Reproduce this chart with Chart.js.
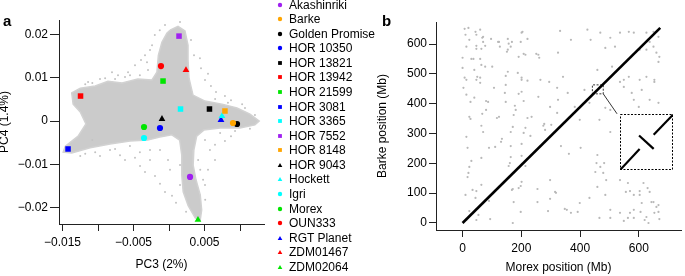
<!DOCTYPE html>
<html>
<head>
<meta charset="utf-8">
<script src="https://cdn.jsdelivr.net/npm/chart.js@4.4.1/dist/chart.umd.min.js"></script>
<style>
  body { margin: 0; width: 685px; height: 276px; overflow: hidden; background: #fff; position: relative;
         font-family: "Liberation Sans", Arial, Helvetica, sans-serif; color: #000; }
  canvas { position: absolute; }
  .lab { position: absolute; font-weight: bold; font-size: 15px; line-height: 15px; }
  .leg { position: absolute; left: 275px; font-size: 12px; line-height: 14px; white-space: nowrap; }
  .leg svg { vertical-align: top; }
  .leg span { margin-left: 4px; }
</style>
</head>
<body>
<canvas id="pa" width="270" height="276" style="left:0;top:0"></canvas>
<canvas id="pb" width="325" height="276" style="left:360px;top:0"></canvas>
<canvas id="inset" width="55" height="58" style="left:619px;top:113px"></canvas>
<div class="lab" style="left:3px;top:13px">a</div>
<div class="lab" style="left:382px;top:13px">b</div>
<div id="legend"></div>
<script>
// panel a: PCA, genotypes
const genoNames = ['Akashinriki', 'Barke', 'Golden Promise', 'HOR 10350', 'HOR 13821', 'HOR 13942', 'HOR 21599',
  'HOR 3081', 'HOR 3365', 'HOR 7552', 'HOR 8148', 'HOR 9043', 'Hockett', 'Igri', 'Morex', 'OUN333',
  'RGT Planet', 'ZDM01467', 'ZDM02064'];
const genoColors = ['#A020F0', '#FFA500', '#000000', '#0000FF', '#000000', '#FF0000', '#00E600',
  '#0000FF', '#00FFFF', '#A020F0', '#FFA500', '#000000', '#00FFFF', '#00FFFF', '#00E600', '#FF0000',
  '#0000FF', '#FF0000', '#00E600'];
const genoShapes = ['circle', 'circle', 'circle', 'circle', 'rect', 'rect', 'rect',
  'rect', 'rect', 'rect', 'rect', 'triangle', 'triangle', 'circle', 'circle', 'circle',
  'triangle', 'triangle', 'triangle'];
const genoPC3 = [0.00296, 0.00901, 0.00958, -0.00127, 0.0057, -0.01246, -0.00084,
  -0.01422, 0.00162, 0.00141, 0.00788, -0.00099, 0.00746, -0.00352, -0.00352, -0.00113,
  0.00732, 0.00239, 0.00408];
const genoPC4 = [-0.01293, -0.00046, -0.00069, -0.00162, 0.00277, 0.00577, 0.00924,
  -0.00647, 0.00277, 0.01963, 0.00231, 0.00046, 0.00115, -0.00393, -0.00139, 0.0127,
  0.00023, 0.01178, -0.02287];

// outline of the dense grey cloud of all accessions (PC3, PC4)
const cloudShape = [
  [0.00014, 0.0210], [0.00127, 0.0219], [0.00225, 0.0208], [0.00268, 0.0175], [0.00268, 0.0141],
  [0.00282, 0.0099], [0.00338, 0.0060], [0.00507, 0.0046], [0.00746, 0.0039], [0.00957, 0.0030],
  [0.0114, 0.0016], [0.0127, 0.0000], [0.0121, -0.0009], [0.0100, -0.0016], [0.0072, -0.0016],
  [0.0049, -0.0021], [0.0039, -0.0035], [0.0035, -0.0067], [0.0034, -0.0102], [0.0038, -0.0136],
  [0.0044, -0.0171], [0.0046, -0.0206], [0.0044, -0.0229], [0.0037, -0.0224], [0.0027, -0.0196],
  [0.0020, -0.0164], [0.0018, -0.0125], [0.0018, -0.0079], [0.0015, -0.0044], [0.0004, -0.0032],
  [-0.0013, -0.0037], [-0.0030, -0.0044], [-0.0055, -0.0046], [-0.0083, -0.0053], [-0.0111, -0.0062],
  [-0.0137, -0.0074], [-0.0149, -0.0072], [-0.0146, -0.0058], [-0.0128, -0.0035], [-0.0117, -0.0007],
  [-0.0125, 0.0021], [-0.0135, 0.0039], [-0.0137, 0.0065], [-0.0125, 0.0076], [-0.0104, 0.0081],
  [-0.0086, 0.0092], [-0.0066, 0.0088], [-0.0044, 0.0097], [-0.0024, 0.0095], [-0.0017, 0.0113],
  [-0.0015, 0.0152], [-0.0010, 0.0182], [-0.0003, 0.0203], [0.00014, 0.0210]
];
// scattered accessions outside the dense part
const cloudSparse = [
  [-0.00338, 0.0152], [-0.00268, 0.0164], [-0.00394, 0.0141], [-0.00239, 0.0175], [-0.00479, 0.0129],
  [-0.00296, 0.0118], [-0.00577, 0.0113], [-0.00718, 0.0106], [-0.00056, 0.0222], [0.00155, 0.0229],
  [0.0031, 0.0187], [0.00352, 0.0152], [0.00451, 0.0122], [0.00507, 0.0095], [0.00591, 0.0081],
  [0.00662, 0.0067], [0.00788, 0.0058], [0.00436, 0.0145], [0.00549, 0.0109], [0.00873, 0.0048],
  [0.0103, 0.0039], [-0.00972, 0.0097], [-0.0114, 0.0090], [-0.00549, 0.0106], [-0.00803, 0.0113],
  [-0.00831, -0.0067], [-0.0069, -0.0079], [-0.0062, -0.0090], [-0.00479, -0.0085], [-0.00408, -0.0104],
  [-0.00338, -0.0118], [-0.00268, -0.0090], [-0.00197, -0.0127], [-0.00127, -0.0145], [-0.00056, -0.0164],
  [0.00014, -0.0113], [0.00042, -0.0173], [0.00099, -0.0189], [-0.00127, -0.0067], [-0.00014, -0.0090],
  [0.00507, -0.0044], [0.00577, -0.0067], [0.00648, -0.0055], [0.00788, -0.0046], [0.00873, -0.0035],
  [0.00648, -0.0090], [0.00549, -0.0113], [0.00507, -0.0148], [-0.00268, -0.0067], [-0.00972, -0.0081],
  [-0.0118, -0.0076], [-0.0108, -0.0044],
  [-0.0118, 0.0085], [-0.0108, 0.0088], [-0.0090, 0.0099], [-0.0076, 0.0097], [-0.0062, 0.0102],
  [-0.0041, 0.0106], [-0.0031, 0.0136], [-0.0020, 0.0199], [-0.0013, 0.0210], [0.0065, 0.0051],
  [0.0083, 0.0042], [0.0107, 0.0030], [0.0121, 0.0014], [-0.0125, -0.0081], [-0.0104, -0.0072],
  [-0.0076, -0.0065], [-0.0055, -0.0058], [-0.0041, -0.0072], [0.00155, -0.0102], [0.0041, -0.0090],
  [0.0044, -0.0113], [0.0048, -0.0136], [0.0051, -0.0182], [0.00155, -0.0148], [0.0024, -0.0210],
  [0.0093, -0.0023], [0.0072, -0.0028], [0.0114, -0.0018]
];
const pcaXTicks = [-0.015, -0.01, -0.005, 0, 0.005, 0.01];
const pcaXLabels = ['\u22120.015', '', '\u22120.005', '', '0.005', ''];
const pcaYTicks = [-0.02, -0.01, 0, 0.01, 0.02];
const pcaYLabels = ['\u22120.02', '\u22120.01', '0', '0.01', '0.02'];

// panel b: Morex vs Barke alignment (Mb)
const diagMorex = [0, 673];
const diagBarke = [0, 654];
const zoomBoxMorex = [442, 479, 479, 442, 442];
const zoomBoxBarke = [433, 433, 463, 463, 433];
const linkMorex = [479, 526];
const linkBarke = [433, 366];
const dotsB = [
  [7, 651], [20, 654], [44, 641], [60, 648], [10, 631], [47, 631], [67, 621], [23, 614], [70, 607], [13, 591],
  [47, 594], [77, 594], [47, 584], [64, 584], [121, 607], [127, 591], [154, 617], [157, 601], [164, 591], [154, 581],
  [198, 607], [204, 641], [221, 617], [0, 554], [30, 550], [37, 550], [60, 550], [64, 530], [77, 524], [101, 524],
  [191, 557], [208, 567], [251, 567], [261, 554], [0, 520], [40, 513], [154, 507], [147, 493], [188, 503], [201, 487],
  [221, 477], [7, 487], [47, 480], [60, 487], [60, 470], [295, 473], [3, 453], [107, 453], [144, 436], [191, 433],
  [201, 440], [13, 430], [40, 420], [27, 406], [80, 409], [87, 406], [208, 409], [178, 393], [322, 453], [322, 369],
  [67, 366], [117, 352], [174, 362], [221, 352], [27, 349], [278, 332],
  [64, 326], [70, 305], [13, 289], [17, 252], [134, 282], [131, 272], [171, 322], [164, 305], [214, 319], [208, 302],
  [231, 292], [275, 326], [281, 312], [302, 329], [201, 265], [164, 258], [90, 252], [111, 255], [64, 218], [164, 221],
  [161, 201], [201, 225], [214, 191], [30, 208], [23, 188], [20, 168], [17, 154], [157, 191], [64, 128], [34, 111],
  [47, 107], [10, 94], [44, 84], [90, 74], [171, 114], [191, 117], [201, 138], [198, 124], [255, 114], [318, 101],
  [174, 70], [291, 40], [198, 37], [23, 40], [54, 27], [94, 13], [47, 10], [171, 0], [13, 10],
  [298, 81], [298, 144], [315, 104], [335, 258], [362, 232], [355, 44], [348, 47], [369, 34], [392, 37], [399, 67],
  [432, 84], [459, 121], [469, 188], [482, 201], [486, 94], [503, 44], [503, 17], [466, 17], [456, 201], [479, 168],
  [489, 144], [536, 144], [563, 134], [556, 104], [570, 107], [583, 94], [603, 107], [603, 94], [610, 67], [616, 134],
  [630, 117], [637, 104], [643, 70], [650, 70], [660, 54], [667, 37], [670, 13], [653, 34], [626, 20], [606, 37],
  [583, 44], [570, 34], [563, 17], [536, 34], [549, 7], [583, 17], [633, 0], [620, 10], [667, 60], [168, 111], [255, 70],
  [566, 641], [583, 638], [626, 638], [650, 641], [667, 624], [660, 571], [670, 557], [667, 540], [637, 607], [650, 591],
  [626, 581], [603, 581], [332, 644], [425, 648], [469, 638], [503, 621], [536, 638], [519, 591], [486, 587], [436, 614],
  [369, 614], [325, 571], [258, 564], [214, 564], [201, 638], [168, 607], [151, 574], [124, 607], [97, 617], [70, 624],
  [13, 480], [50, 490], [147, 463], [201, 480], [265, 480], [342, 490], [358, 436], [415, 446], [459, 513], [509, 524],
  [536, 473], [549, 456], [566, 490], [583, 413], [626, 490], [653, 473], [637, 413], [667, 403], [600, 389], [503, 379],
  [432, 403], [382, 389], [325, 413], [298, 389], [258, 423], [235, 356], [181, 379], [147, 406], [124, 356], [80, 379],
  [23, 356], [549, 480], [603, 480], [653, 480], [576, 436], [610, 446], [486, 386], [466, 346], [503, 305], [459, 228],
  [452, 171], [402, 252], [399, 346]
];
const morexTicks = [0, 200, 400, 600];
const barkeTicks = [0, 100, 200, 300, 400, 500, 600];

// inset: zoom on the inversion (Mb)
const insetLowMorex = [442, 455.7];
const insetLowBarke = [433, 444.3];
const insetInvMorex = [455.3, 465.5];
const insetInvBarke = [451.5, 444.3];
const insetUpMorex = [465.5, 479];
const insetUpBarke = [451.9, 462.6];

Chart.defaults.font.family = '"Liberation Sans", Arial, Helvetica, sans-serif';
Chart.defaults.font.size = 12;
Chart.defaults.color = '#000';
Chart.defaults.animation = false;
Chart.defaults.plugins.legend.display = false;
Chart.defaults.plugins.tooltip.enabled = false;

const pts = (xs, ys) => xs.map((x, i) => ({ x: x, y: ys[i] }));
const pairs = arr => arr.map(p => ({ x: p[0], y: p[1] }));

function axis(opts) {
  return {
    type: 'linear',
    min: opts.min,
    max: opts.max,
    afterBuildTicks: s => { s.ticks = opts.ticks.map(v => ({ value: v })); },
    afterFit: s => { if (opts.width) s.width = opts.width; if (opts.height) s.height = opts.height; },
    ticks: {
      autoSkip: false, maxRotation: 0, padding: opts.padding,
      callback: (v, i) => opts.labels ? opts.labels[i] : String(v)
    },
    grid: { drawOnChartArea: false, drawTicks: true, tickLength: opts.tick, color: '#222', lineWidth: 1 },
    border: { display: true, color: '#222', width: 1 },
    title: { display: true, text: opts.title, font: { size: 12, lineHeight: 1 }, padding: opts.titlePad }
  };
}

// ---- panel a
const genoSets = genoNames.map((name, i) => ({
  label: name,
  data: [{ x: genoPC3[i], y: genoPC4[i] }],
  pointStyle: genoShapes[i],
  pointRadius: genoShapes[i] === 'circle' ? 3.1 : 3.9,
  backgroundColor: genoColors[i],
  borderColor: genoColors[i],
  pointBorderWidth: 0,
  order: 0
}));

new Chart(document.getElementById('pa'), {
  type: 'scatter',
  data: {
    datasets: genoSets.concat([
      {
        type: 'line', label: 'cloud', data: pairs(cloudShape), fill: 'shape',
        backgroundColor: '#cbcbcb', borderColor: '#d2d2d2', borderWidth: 1.5, tension: 0,
        pointRadius: 0, order: 2
      },
      {
        label: 'sparse', data: pairs(cloudSparse), pointRadius: 1, pointBorderWidth: 0,
        backgroundColor: '#c2c2c2', order: 1
      }
    ])
  },
  options: {
    responsive: false,
    layout: { padding: { left: 0, top: 20, right: 6, bottom: 0 } },
    scales: {
      x: axis({ min: -0.015493, max: 0.01338, ticks: pcaXTicks, labels: pcaXLabels, height: 52, tick: 7,
                padding: 4, title: 'PC3 (2%)', titlePad: { top: 0, bottom: 5 } }),
      y: axis({ min: -0.023815, max: 0.023353, ticks: pcaYTicks, labels: pcaYLabels, width: 59, tick: 9,
                padding: 2, title: 'PC4 (1.4%)', titlePad: { top: -1, bottom: 0 } })
    }
  }
});

// legend of panel a
const legend = document.getElementById('legend');
genoNames.forEach((name, i) => {
  const row = document.createElement('div');
  row.className = 'leg';
  row.style.top = (4.5 + 14.58 * i - 7) + 'px';
  const c = genoColors[i];
  let shape;
  if (genoShapes[i] === 'circle') shape = `<circle cx="5" cy="7" r="2.2" fill="${c}"/>`;
  else if (genoShapes[i] === 'rect') shape = `<rect x="3.1" y="5.1" width="3.8" height="3.8" fill="${c}"/>`;
  else shape = `<polygon points="2.7,9 7.3,9 5,5" fill="${c}"/>`;
  row.innerHTML = `<svg width="10" height="14">${shape}</svg><span>${name}</span>`;
  legend.appendChild(row);
});

// ---- panel b
new Chart(document.getElementById('pb'), {
  type: 'scatter',
  data: {
    datasets: [
      {
        type: 'line', label: 'alignment', data: pts(diagMorex, diagBarke), borderColor: '#000',
        borderWidth: 2.6, pointRadius: 0, order: 0
      },
      {
        type: 'line', label: 'zoom box', data: pts(zoomBoxMorex, zoomBoxBarke), borderColor: '#000',
        borderWidth: 0.8, borderDash: [2, 1.5], pointRadius: 0, order: 1
      },
      {
        type: 'line', label: 'link', data: pts(linkMorex, linkBarke), borderColor: '#000',
        borderWidth: 0.8, pointRadius: 0, order: 1
      },
      {
        label: 'other hits', data: pairs(dotsB), pointRadius: 1.1, pointBorderWidth: 0,
        backgroundColor: '#b8b8b8', order: 3
      }
    ]
  },
  options: {
    responsive: false,
    layout: { padding: { left: 0, top: 22, right: 0, bottom: 0 } },
    scales: {
      x: axis({ min: -90.45, max: 743.7, ticks: morexTicks, height: 46, tick: 7, padding: 4,
                title: 'Morex position (Mb)', titlePad: { top: 0, bottom: 2 } }),
      y: axis({ min: -23.5, max: 673.8, ticks: barkeTicks, width: 76, tick: 7, padding: 2,
                title: 'Barke position (Mb)', titlePad: { top: 17, bottom: 0 } })
    }
  }
});

// ---- inset
const insetFrame = {
  id: 'insetFrame',
  beforeDatasetsDraw(chart) {
    const { ctx, chartArea: a } = chart;
    ctx.save();
    ctx.fillStyle = '#fff';
    ctx.fillRect(a.left, a.top, a.width, a.height);
    ctx.restore();
  },
  afterDraw(chart) {
    const { ctx, chartArea: a } = chart;
    ctx.save();
    ctx.setLineDash([2, 1.5]);
    ctx.lineWidth = 1;
    ctx.strokeStyle = '#000';
    ctx.strokeRect(a.left + 0.5, a.top + 0.5, a.width - 1, a.height - 1);
    ctx.restore();
  }
};

const insetLine = (xs, ys) => ({
  type: 'line', data: pts(xs, ys), borderColor: '#000', borderWidth: 2.2, pointRadius: 0
});

new Chart(document.getElementById('inset'), {
  type: 'scatter',
  data: {
    datasets: [
      insetLine(insetLowMorex, insetLowBarke),
      insetLine(insetInvMorex, insetInvBarke),
      insetLine(insetUpMorex, insetUpBarke)
    ]
  },
  options: {
    responsive: false,
    layout: { padding: 1 },
    scales: {
      x: { type: 'linear', display: false, min: 442, max: 479 },
      y: { type: 'linear', display: false, min: 433, max: 463 }
    }
  },
  plugins: [insetFrame]
});
</script>
</body>
</html>
